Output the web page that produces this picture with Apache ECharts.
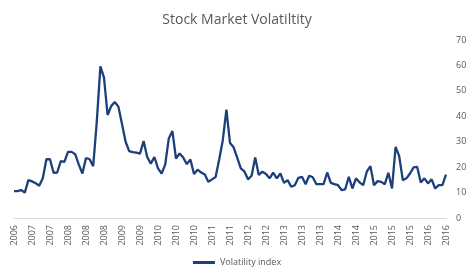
<!DOCTYPE html>
<html>
<head>
<meta charset="utf-8">
<script src="https://cdn.jsdelivr.net/npm/echarts@6/dist/echarts.min.js"></script>
<style>
html,body{margin:0;padding:0;background:#fff;}
#chart{width:474px;height:278px;}
</style>
</head>
<body>
<div id="chart"></div>
<script>
var titleText = "Stock Market Volatiltity";
var seriesName = "Volatility index";
// tick labels shown every 5th point along the x axis
var tickLabels = ["2006","2007","2007","2008","2008","2008","2009","2009","2010","2010","2010","2011","2011",
  "2012","2012","2013","2013","2013","2014","2014","2015","2015","2015","2016","2016"];
var volatility = [
  10.6,10.6,11,10,14.9,14.4,13.7,12.7,15.6,23.1,
  23.1,17.8,17.9,22.4,22.1,26,26,25.1,21,17.5,
  23.6,23.1,20.4,38,59.6,55.2,40.5,44,45.6,43.8,
  37,30,26.3,25.9,25.7,25.3,30.3,24,21.4,24,
  19.5,17.5,21,31.3,34.2,23.4,25.4,23.8,21.2,23,
  17.3,19,17.9,17.1,14.2,15.2,16.1,23,30.6,42.6,
  29.5,27.8,23.7,19.5,18.3,15.2,16.6,23.8,16.9,18.2,
  17.3,15.6,17.8,15.6,17.5,13.8,14.9,12.3,12.9,15.8,
  16.2,13.3,16.6,16,13.3,13.3,13.3,17.9,13.8,13.3,
  12.9,11,11.3,16.2,11.6,15.6,14,12.9,18.2,20.4,
  12.9,14.5,14.2,13.3,17.8,11.6,28,24.3,14.9,15.6,
  17.5,19.9,20.1,14,15.6,13.6,15.2,11.6,12.9,12.9,
  17.1
];
var categories = volatility.map(function(v, i){ return tickLabels[Math.floor(i/5)]; });

var chart = echarts.init(document.getElementById('chart'), null, {renderer:'canvas'});
chart.setOption({
  animation:false,
  backgroundColor:'#ffffff',
  title:{
    text:titleText, left:'center', top:8,
    textStyle:{fontFamily:'Open Sans', fontSize:14, fontWeight:'normal', color:'#595959'}
  },
  legend:{
    data:[seriesName], bottom:6, left:'center',
    itemWidth:22, itemHeight:3, itemGap:6,
    icon:'rect',
    textStyle:{fontFamily:'Open Sans', fontSize:9, color:'#595959'}
  },
  grid:{left:14, right:28, top:40, bottom:60, containLabel:false},
  xAxis:{
    type:'category', data:categories, boundaryGap:false,
    axisLine:{lineStyle:{color:'#d9d9d9', width:1}},
    axisTick:{show:false},
    axisLabel:{interval:4, rotate:90, fontFamily:'Open Sans', fontSize:9, color:'#595959', margin:7}
  },
  yAxis:{
    type:'value', position:'right', min:0, max:70, interval:10,
    axisLine:{show:false}, axisTick:{show:false},
    splitLine:{show:false},
    axisLabel:{fontFamily:'Open Sans', fontSize:9, color:'#595959', margin:10}
  },
  series:[{
    name:seriesName, type:'line', data:volatility,
    showSymbol:false, symbol:'none',
    lineStyle:{color:'#1d3f7a', width:2.3},
    itemStyle:{color:'#1d3f7a'}
  }]
});
</script>
</body>
</html>
